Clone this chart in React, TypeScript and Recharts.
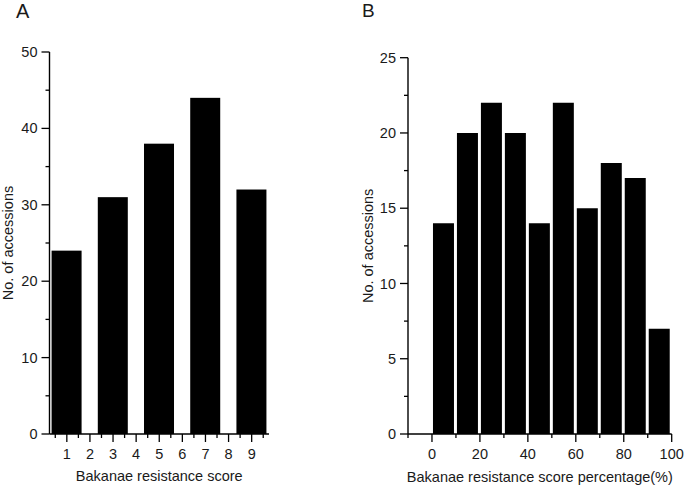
import React from 'react';
import { BarChart, Bar, XAxis, YAxis, Label } from 'recharts';

// Panel A: resistance score 1-9
const scoreCategories = [1, 2, 3, 4, 5, 6, 7, 8, 9];
const scoreCounts = [24, 0, 31, 0, 38, 0, 44, 0, 32];
const scoreXTicks = [0.5, 1, 1.5, 2, 2.5, 3, 3.5, 4, 4.5, 5, 5.5, 6, 6.5, 7, 7.5, 8, 8.5, 9, 9.5];
const scoreYTicks = [0, 5, 10, 15, 20, 25, 30, 35, 40, 45, 50];

// Panel B: resistance score percentage, bins of 10
const percentBins = [5, 15, 25, 35, 45, 55, 65, 75, 85, 95];
const percentCounts = [14, 20, 22, 20, 14, 22, 15, 18, 17, 7];
const percentXTicks = [-10, 0, 10, 20, 30, 40, 50, 60, 70, 80, 90, 100];
const percentYTicks = [0, 2.5, 5, 7.5, 10, 12.5, 15, 17.5, 20, 22.5, 25];

const FONT = '"Liberation Sans", Arial, sans-serif';
const TEXT = '#1a1a1a';

const scoreData = scoreCategories.map((s, i) => ({ score: s, count: scoreCounts[i] }));
const percentData = percentBins.map((b, i) => ({ bin: b, count: percentCounts[i] }));

const BottomTick = ({ x, y, payload, isMajor }: any) => {
  const major = isMajor(payload.value);
  return (
    <g>
      <line x1={x} x2={x} y1={y} y2={y + (major ? 8 : 4)} stroke="#000" strokeWidth={1.3} />
      {major && (
        <text x={x} y={y + 25} textAnchor="middle" fontSize={14.5} fontFamily={FONT} fill={TEXT}>
          {payload.value}
        </text>
      )}
    </g>
  );
};

const LeftTick = ({ x, y, payload, isMajor }: any) => {
  const major = isMajor(payload.value);
  return (
    <g>
      <line x1={x - (major ? 8 : 4)} x2={x} y1={y} y2={y} stroke="#000" strokeWidth={1.3} />
      {major && (
        <text x={x - 12} y={y} dy="0.35em" textAnchor="end" fontSize={14.5} fontFamily={FONT} fill={TEXT}>
          {payload.value}
        </text>
      )}
    </g>
  );
};

// wide bars in panel A (wider than the 1-unit spacing allowed by default)
const WideBar = (props: any) => {
  const { x, y, width, height } = props;
  if (!height || height <= 0) return null;
  const w = 30;
  return <rect x={x + width / 2 - w / 2} y={y} width={w} height={height} fill="#000" />;
};

const xTitle = (text: string, baseline: number) => (props: any) => {
  const vb = props.viewBox;
  return (
    <text x={vb.x + vb.width / 2} y={baseline} textAnchor="middle" fontSize={14.5} fontFamily={FONT} fill={TEXT}>
      {text}
    </text>
  );
};

const yTitle = (text: string, dx: number) => (props: any) => {
  const vb = props.viewBox;
  const cx = vb.x + dx;
  const cy = vb.y + vb.height / 2;
  return (
    <text x={cx} y={cy} transform={`rotate(-90, ${cx}, ${cy})`} textAnchor="middle" fontSize={14.5} fontFamily={FONT} fill={TEXT}>
      {text}
    </text>
  );
};

export default function App() {
  return (
    <div style={{ position: 'absolute', left: 0, top: 0, width: 685, height: 487, background: '#fff' }}>
      <div style={{ position: 'absolute', left: 0, top: 0 }}>
        <BarChart width={340} height={487} data={scoreData} margin={{ top: 52, right: 71, bottom: 0, left: 0 }}>
          <XAxis
            dataKey="score"
            type="number"
            domain={[0.25, 9.75]}
            ticks={scoreXTicks}
            interval={0}
            height={53}
            tickSize={0}
            tickMargin={0}
            tickLine={false}
            axisLine={{ stroke: '#000', strokeWidth: 1.4 }}
            tick={(p: any) => <BottomTick {...p} isMajor={(v: number) => Number.isInteger(v)} />}
          >
            <Label content={xTitle('Bakanae resistance score', 481)} />
          </XAxis>
          <YAxis
            type="number"
            domain={[0, 50]}
            ticks={scoreYTicks}
            interval={0}
            width={49.5}
            tickSize={0}
            tickMargin={0}
            tickLine={false}
            axisLine={{ stroke: '#000', strokeWidth: 1.4 }}
            tick={(p: any) => <LeftTick {...p} isMajor={(v: number) => v % 10 === 0} />}
          >
            <Label content={yTitle('No. of accessions', 13)} />
          </YAxis>
          <Bar dataKey="count" fill="#000" shape={WideBar} isAnimationActive={false} />
        </BarChart>
      </div>
      <div style={{ position: 'absolute', left: 340, top: 0 }}>
        <BarChart width={345} height={487} data={percentData} margin={{ top: 57.7, right: 13.3, bottom: 0, left: 0 }}>
          <XAxis
            dataKey="bin"
            type="number"
            domain={[-10, 100]}
            ticks={percentXTicks}
            interval={0}
            height={53}
            tickSize={0}
            tickMargin={0}
            tickLine={false}
            axisLine={{ stroke: '#000', strokeWidth: 1.4 }}
            tick={(p: any) => <BottomTick {...p} isMajor={(v: number) => v >= 0 && v % 20 === 0} />}
          >
            <Label content={xTitle('Bakanae resistance score percentage(%)', 482)} />
          </XAxis>
          <YAxis
            type="number"
            domain={[0, 25]}
            ticks={percentYTicks}
            interval={0}
            width={68}
            tickSize={0}
            tickMargin={0}
            tickLine={false}
            axisLine={{ stroke: '#000', strokeWidth: 1.4 }}
            tick={(p: any) => <LeftTick {...p} isMajor={(v: number) => v % 5 === 0} />}
          >
            <Label content={yTitle('No. of accessions', 33)} />
          </YAxis>
          <Bar dataKey="count" fill="#000" barSize={21} isAnimationActive={false} />
        </BarChart>
      </div>
      <svg width={685} height={487} style={{ position: 'absolute', left: 0, top: 0, pointerEvents: 'none' }}>
        <text x={16} y={18} fontSize={20} fontFamily={FONT} fill={TEXT}>A</text>
        <text x={362} y={17} fontSize={19} fontFamily={FONT} fill={TEXT}>B</text>
      </svg>
    </div>
  );
}
